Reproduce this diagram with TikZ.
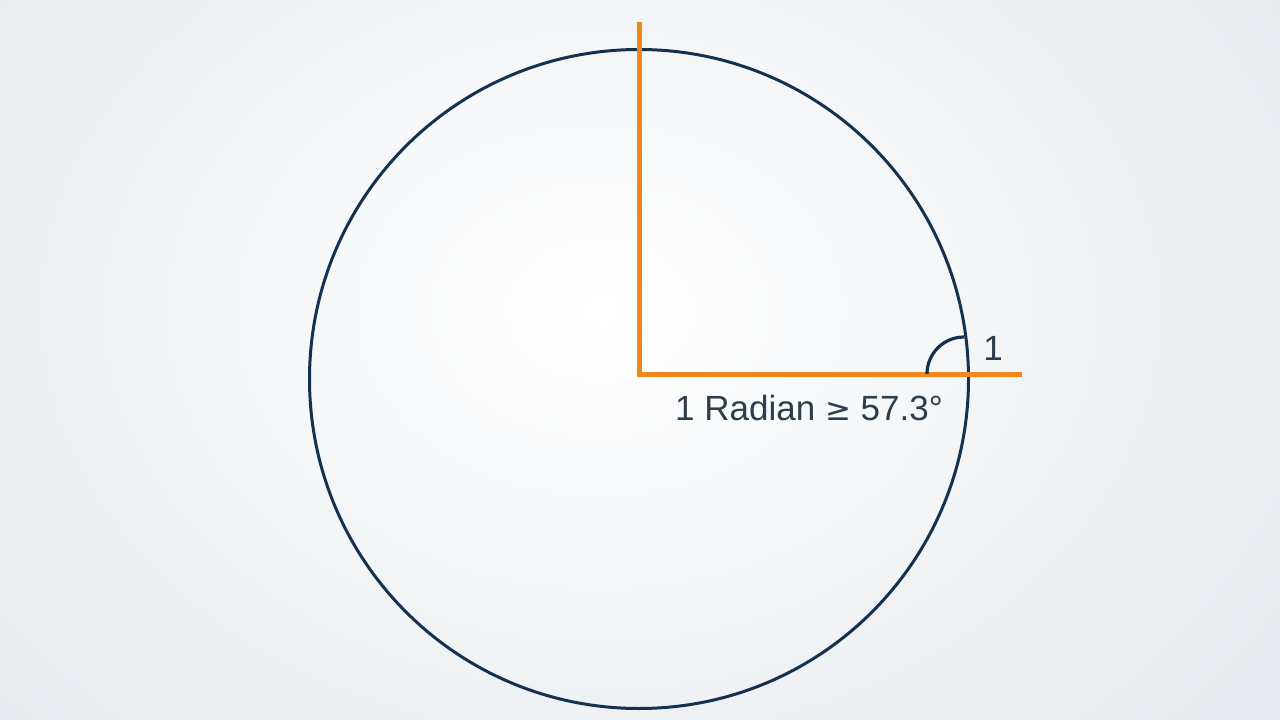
\documentclass[tikz,border=0pt]{standalone}
\usepackage{fontspec}
\setmainfont{Liberation Sans}
\newfontfamily\symfont{DejaVu Sans}
\definecolor{navy}{HTML}{14324F}
\definecolor{rayorange}{HTML}{F0861C}
\definecolor{bgedge}{HTML}{E6EAEE}
\definecolor{txt}{HTML}{2E3D4B}
\tikzset{
  ray/.style={draw=rayorange, line width=5pt, line cap=butt},
  rim/.style={draw=navy, line width=3pt},
  lbl/.style={text=txt, font=\fontsize{35}{40}\selectfont, inner sep=0pt}
}
\begin{document}
\begin{tikzpicture}[x=1pt,y=-1pt]
\useasboundingbox (0,0) rectangle (1280,720);
\shade[inner color=white, outer color=bgedge] (-200,-300) rectangle (1400,920);
\coordinate (O) at (639,374);
\coordinate (C) at (639,379);
\coordinate (top) at (639,22);
\coordinate (rend) at (1022,374);
\draw[rim] (C) circle[radius=329.5];
\draw[ray] (top) -- (O) -- (rend);
\coordinate (a0) at (927,374);
\draw[rim, line width=3.2pt] (a0) arc[start angle=180, end angle=90, x radius=37, y radius=-37];
\node[lbl] (one) at (993,348) {1};
\node[lbl] (rad) at (809,408) {1 Radian {\symfont\fontsize{31}{36}\selectfont ≥} 57.3°};
\end{tikzpicture}
\end{document}
